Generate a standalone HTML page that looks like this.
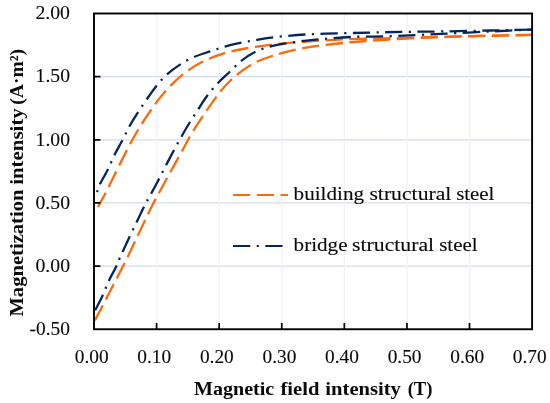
<!DOCTYPE html>
<html lang="en"><head><meta charset="utf-8"><title>Magnetization curves</title>
<style>
html,body{margin:0;padding:0;background:#fff;}
body{width:550px;height:403px;overflow:hidden;}
svg{display:block;}
text{font-family:"Liberation Serif",serif;fill:#0a0a0a;stroke:#0a0a0a;stroke-width:0.12px;}
text.b{font-weight:bold;stroke:none;}
</style></head><body>
<svg width="550" height="403" viewBox="0 0 550 403">
<rect width="550" height="403" fill="#fff"/>
<g><line x1="94.00" y1="76.65" x2="532.10" y2="76.65" stroke="#D4DBE8" stroke-width="1.3"/><line x1="94.00" y1="139.80" x2="532.10" y2="139.80" stroke="#D4DBE8" stroke-width="1.3"/><line x1="94.00" y1="202.95" x2="532.10" y2="202.95" stroke="#D4DBE8" stroke-width="1.3"/><line x1="94.00" y1="266.10" x2="532.10" y2="266.10" stroke="#D4DBE8" stroke-width="1.3"/><line x1="156.59" y1="13.50" x2="156.59" y2="329.25" stroke="#F0F2F7" stroke-width="1.3"/><line x1="219.17" y1="13.50" x2="219.17" y2="329.25" stroke="#F0F2F7" stroke-width="1.3"/><line x1="281.76" y1="13.50" x2="281.76" y2="329.25" stroke="#F0F2F7" stroke-width="1.3"/><line x1="344.34" y1="13.50" x2="344.34" y2="329.25" stroke="#F0F2F7" stroke-width="1.3"/><line x1="406.93" y1="13.50" x2="406.93" y2="329.25" stroke="#F0F2F7" stroke-width="1.3"/><line x1="469.51" y1="13.50" x2="469.51" y2="329.25" stroke="#F0F2F7" stroke-width="1.3"/></g>
<path d="M94.60 321.00 C97.40 315.67 99.83 311.10 103.00 305.00 C106.17 298.90 109.93 291.50 113.60 284.40 C117.27 277.30 122.10 268.13 125.00 262.40 C127.90 256.67 126.83 258.73 131.00 250.00 C135.17 241.27 145.33 219.50 150.00 210.00 C154.67 200.50 155.60 199.33 159.00 193.00 C162.40 186.67 166.63 178.83 170.40 172.00 C174.17 165.17 178.00 158.50 181.60 152.00 C185.20 145.50 187.87 139.83 192.00 133.00 C196.13 126.17 201.73 117.83 206.40 111.00 C211.07 104.17 215.90 97.17 220.00 92.00 C224.10 86.83 226.00 84.43 231.00 80.00 C236.00 75.57 243.17 69.40 250.00 65.40 C256.83 61.40 263.17 58.87 272.00 56.00 C280.83 53.13 291.17 50.37 303.00 48.20 C314.83 46.03 328.67 44.45 343.00 43.00 C357.33 41.55 373.33 40.47 389.00 39.50 C404.67 38.53 421.83 37.78 437.00 37.20 C452.17 36.62 464.17 36.38 480.00 36.00 C495.83 35.62 514.67 35.27 532.00 34.90" fill="none" stroke="#FD6A0C" stroke-width="2.29" stroke-dasharray="17.28 6.48" stroke-dashoffset="23.21"/>
<path d="M98.00 207.00 C100.33 202.67 102.00 199.83 105.00 194.00 C108.00 188.17 112.33 179.33 116.00 172.00 C119.67 164.67 123.33 157.00 127.00 150.00 C130.67 143.00 134.00 136.67 138.00 130.00 C142.00 123.33 146.40 116.50 151.00 110.00 C155.60 103.50 160.37 96.87 165.60 91.00 C170.83 85.13 176.33 79.63 182.40 74.80 C188.47 69.97 195.07 65.57 202.00 62.00 C208.93 58.43 216.33 55.73 224.00 53.40 C231.67 51.07 240.00 49.47 248.00 48.00 C256.00 46.53 262.83 45.63 272.00 44.60 C281.17 43.57 291.17 42.67 303.00 41.80 C314.83 40.93 328.67 39.98 343.00 39.40 C357.33 38.82 373.33 38.70 389.00 38.30 C404.67 37.90 421.83 37.40 437.00 37.00 C452.17 36.60 464.17 36.25 480.00 35.90 C495.83 35.55 514.67 35.23 532.00 34.90" fill="none" stroke="#FD6A0C" stroke-width="2.29" stroke-dasharray="17.28 6.48" stroke-dashoffset="1.01"/>
<path d="M94.60 311.30 C97.20 306.20 100.00 301.15 102.40 296.00 C104.80 290.85 106.73 285.23 109.00 280.40 C111.27 275.57 113.83 271.57 116.00 267.00 C118.17 262.43 117.60 262.50 122.00 253.00 C126.40 243.50 137.57 219.83 142.40 210.00 C147.23 200.17 148.33 199.00 151.00 194.00 C153.67 189.00 155.97 184.67 158.40 180.00 C160.83 175.33 163.17 170.67 165.60 166.00 C168.03 161.33 170.35 156.92 173.00 152.00 C175.65 147.08 178.67 141.50 181.50 136.50 C184.33 131.50 187.18 126.58 190.00 122.00 C192.82 117.42 195.57 113.33 198.40 109.00 C201.23 104.67 203.73 100.33 207.00 96.00 C210.27 91.67 214.25 87.00 218.00 83.00 C221.75 79.00 225.57 75.73 229.50 72.00 C233.43 68.27 237.35 63.93 241.60 60.60 C245.85 57.27 250.27 54.33 255.00 52.00 C259.73 49.67 264.83 48.03 270.00 46.60 C275.17 45.17 280.50 44.33 286.00 43.40 C291.50 42.47 297.67 41.67 303.00 41.00 C308.33 40.33 310.17 40.07 318.00 39.40 C325.83 38.73 339.22 37.50 350.00 37.00 C360.78 36.50 371.87 36.72 382.70 36.40 C393.53 36.08 404.45 35.57 415.00 35.10 C425.55 34.63 433.50 34.20 446.00 33.60 C458.50 33.00 475.67 32.17 490.00 31.50 C504.33 30.83 518.00 30.23 532.00 29.60" fill="none" stroke="#05255F" stroke-width="2.29" stroke-dasharray="17.24 6.46 2.15 6.46" stroke-dashoffset="31.11"/>
<path d="M97.00 192.20 C98.00 189.47 98.23 187.70 100.00 184.00 C101.77 180.30 105.20 174.83 107.60 170.00 C110.00 165.17 112.00 159.83 114.40 155.00 C116.80 150.17 119.47 145.83 122.00 141.00 C124.53 136.17 127.00 130.67 129.60 126.00 C132.20 121.33 134.70 117.50 137.60 113.00 C140.50 108.50 143.87 103.50 147.00 99.00 C150.13 94.50 153.07 90.10 156.40 86.00 C159.73 81.90 163.07 77.97 167.00 74.40 C170.93 70.83 175.50 67.50 180.00 64.60 C184.50 61.70 189.00 59.20 194.00 57.00 C199.00 54.80 204.83 53.13 210.00 51.40 C215.17 49.67 219.67 48.07 225.00 46.60 C230.33 45.13 236.67 43.73 242.00 42.60 C247.33 41.47 251.67 40.68 257.00 39.80 C262.33 38.92 266.00 38.18 274.00 37.30 C282.00 36.42 294.40 35.15 305.00 34.50 C315.60 33.85 326.77 33.72 337.60 33.40 C348.43 33.08 359.30 32.85 370.00 32.60 C380.70 32.35 389.53 32.10 401.80 31.90 C414.07 31.70 428.90 31.63 443.60 31.40 C458.30 31.17 475.27 30.80 490.00 30.50 C504.73 30.20 518.00 29.90 532.00 29.60" fill="none" stroke="#05255F" stroke-width="2.29" stroke-dasharray="17.24 6.46 2.15 6.46" stroke-dashoffset="23.84"/>
<rect x="94.00" y="13.50" width="438.10" height="315.75" fill="none" stroke="#000" stroke-width="1.9"/>
<path d="M94.00 76.65h6.4M94.00 139.80h6.4M94.00 202.95h6.4M94.00 266.10h6.4M156.59 329.25v-6.2M219.17 329.25v-6.2M281.76 329.25v-6.2M344.34 329.25v-6.2M406.93 329.25v-6.2M469.51 329.25v-6.2" stroke="#000" stroke-width="1.7" fill="none"/>
<path d="M233 195H288" stroke="#FD6A0C" stroke-width="2.15" stroke-dasharray="17.28 6.48" fill="none"/>
<path d="M233 246H283" stroke="#05255F" stroke-width="2.15" stroke-dasharray="17.24 6.46 2.15 6.46" fill="none"/>
<text class="n" font-size="19.4" y="19.25"><tspan x="35.41" textLength="34.58" lengthAdjust="spacingAndGlyphs">2.00</tspan></text>
<text class="n" font-size="19.4" y="82.40"><tspan x="35.63" textLength="34.36" lengthAdjust="spacingAndGlyphs">1.50</tspan></text>
<text class="n" font-size="19.4" y="145.55"><tspan x="35.63" textLength="34.36" lengthAdjust="spacingAndGlyphs">1.00</tspan></text>
<text class="n" font-size="19.4" y="208.70"><tspan x="35.51" textLength="34.48" lengthAdjust="spacingAndGlyphs">0.50</tspan></text>
<text class="n" font-size="19.4" y="271.85"><tspan x="35.51" textLength="34.48" lengthAdjust="spacingAndGlyphs">0.00</tspan></text>
<text class="n" font-size="19.4" y="335.00"><tspan x="29.52" textLength="40.46" lengthAdjust="spacingAndGlyphs">-0.50</tspan></text>
<text class="n" font-size="19.4" y="363.20"><tspan x="74.72" textLength="33.85" lengthAdjust="spacingAndGlyphs">0.00</tspan></text>
<text class="n" font-size="19.4" y="363.20"><tspan x="137.31" textLength="33.85" lengthAdjust="spacingAndGlyphs">0.10</tspan></text>
<text class="n" font-size="19.4" y="363.20"><tspan x="199.89" textLength="33.85" lengthAdjust="spacingAndGlyphs">0.20</tspan></text>
<text class="n" font-size="19.4" y="363.20"><tspan x="262.48" textLength="33.85" lengthAdjust="spacingAndGlyphs">0.30</tspan></text>
<text class="n" font-size="19.4" y="363.20"><tspan x="325.07" textLength="33.85" lengthAdjust="spacingAndGlyphs">0.40</tspan></text>
<text class="n" font-size="19.4" y="363.20"><tspan x="387.65" textLength="33.85" lengthAdjust="spacingAndGlyphs">0.50</tspan></text>
<text class="n" font-size="19.4" y="363.20"><tspan x="450.24" textLength="33.85" lengthAdjust="spacingAndGlyphs">0.60</tspan></text>
<text class="n" font-size="19.4" y="363.20"><tspan x="512.82" textLength="33.85" lengthAdjust="spacingAndGlyphs">0.70</tspan></text>
<text class="n" font-size="19.5" y="200.30"><tspan x="293.60" textLength="70.52" lengthAdjust="spacingAndGlyphs">building</tspan> <tspan x="369.43" textLength="81.96" lengthAdjust="spacingAndGlyphs">structural</tspan> <tspan x="456.17" textLength="38.21" lengthAdjust="spacingAndGlyphs">steel</tspan></text>
<text class="n" font-size="19.5" y="251.00"><tspan x="293.60" textLength="53.91" lengthAdjust="spacingAndGlyphs">bridge</tspan> <tspan x="352.13" textLength="81.96" lengthAdjust="spacingAndGlyphs">structural</tspan> <tspan x="439.16" textLength="38.41" lengthAdjust="spacingAndGlyphs">steel</tspan></text>
<text class="b" font-size="19" y="395.25"><tspan x="194.10" textLength="80.18" lengthAdjust="spacingAndGlyphs">Magnetic</tspan> <tspan x="280.50" textLength="38.93" lengthAdjust="spacingAndGlyphs">field</tspan> <tspan x="325.39" textLength="75.51" lengthAdjust="spacingAndGlyphs">intensity</tspan> <tspan x="407.65" textLength="24.85" lengthAdjust="spacingAndGlyphs">(T)</tspan></text>
<text class="b" font-size="19" transform="translate(22.90 0) rotate(-90)" y="0"><tspan x="-316.61" textLength="127.04" lengthAdjust="spacingAndGlyphs">Magnetization</tspan> <tspan x="-184.82" textLength="76.62" lengthAdjust="spacingAndGlyphs">intensity</tspan> <tspan x="-104.68" textLength="55.82" lengthAdjust="spacingAndGlyphs">(A·m²)</tspan></text>
</svg></body></html>
